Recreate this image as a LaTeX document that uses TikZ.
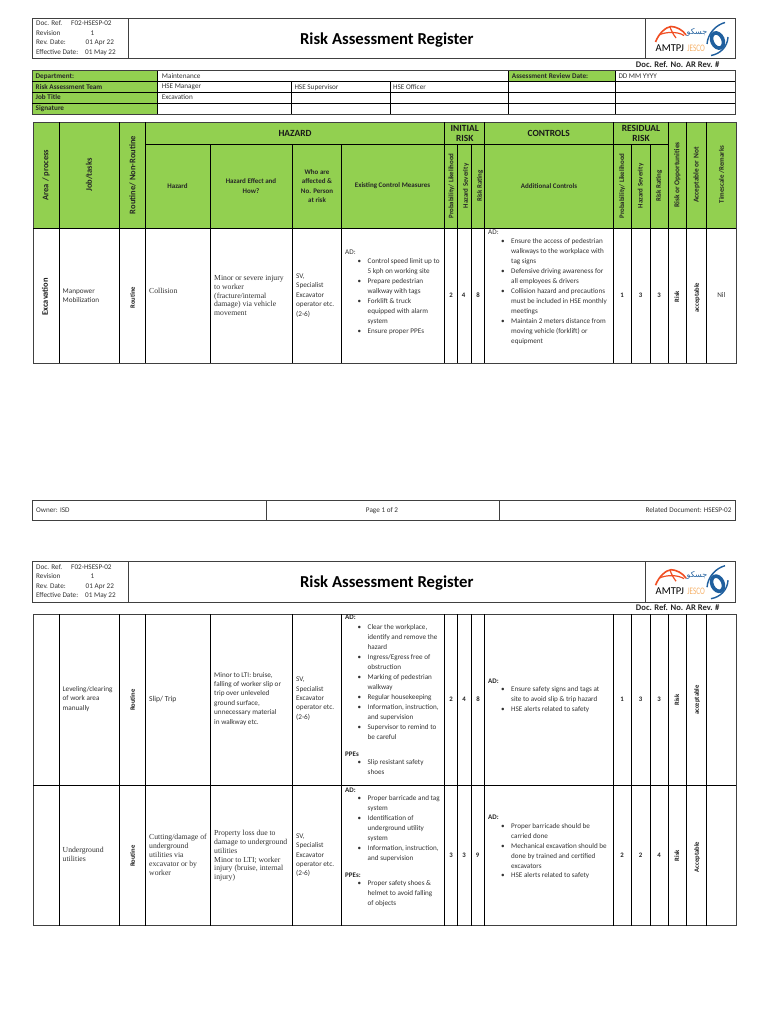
\documentclass[tikz,border=0pt]{standalone}
\usepackage{fontspec}
\setmainfont{Carlito}
\newfontfamily\timesfont{Liberation Serif}
\newfontfamily\arabicfont[Script=Arabic]{DejaVu Sans}
\TeXXeTstate=1
\usepackage{xcolor}
\usepackage{tikz}
\usetikzlibrary{positioning}
\definecolor{hdrgreen}{HTML}{92D050}
\definecolor{bodygray}{HTML}{333333}
\definecolor{logored}{HTML}{F04E23}
\definecolor{logopale}{HTML}{F6B26B}
\definecolor{logoblue}{HTML}{1F5F9E}
\newcommand{\bl}{\makebox[10pt][l]{\textbullet}}
\newcommand{\ct}{\hspace*{10pt}}

\begin{document}
\begin{tikzpicture}[
    x=1pt, y=-1pt,
    grid/.style={draw=black, line width=0.7pt},
    frame/.style={draw=black!75, line width=1pt},
    small/.style={inner sep=0pt, anchor=west, align=left, text=bodygray, font=\fontsize{7.2}{9.4}\selectfont},
    tiny/.style={inner sep=0pt, anchor=base west, text=bodygray, font=\fontsize{7.2}{9.4}\selectfont},
    listbox/.style={inner sep=0pt, anchor=west, align=left, text=bodygray, font=\fontsize{7.15}{9.95}\selectfont},
    serifcell/.style={inner sep=0pt, anchor=west, align=left, text=bodygray, font=\timesfont\fontsize{7.7}{8.9}\selectfont},
    strong/.style={inner sep=0pt, anchor=base west, text=black!85, font=\fontsize{7.2}{9}\selectfont\bfseries},
    adlabel/.style={inner sep=0pt, anchor=base west, text=black!85, font=\fontsize{7}{9}\selectfont\bfseries},
    headcell/.style={inner sep=0pt, align=center, text=black!85, font=\fontsize{7}{9.6}\selectfont\bfseries},
    band/.style={inner sep=0pt, align=center, text=black!90, font=\fontsize{9.4}{10}\selectfont\bfseries},
    rothead/.style={inner sep=0pt, rotate=90, text=black!85, font=\fontsize{6.9}{8}\selectfont\bfseries},
    rotwide/.style={inner sep=0pt, rotate=90, text=black!85, font=\fontsize{7.4}{8}\selectfont\bfseries},
    rotbig/.style={inner sep=0pt, rotate=90, text=black!85, font=\fontsize{8.5}{9}\selectfont\bfseries},
    rotcell/.style={inner sep=0pt, rotate=90, text=black!90, font=\fontsize{6.6}{8}\selectfont\bfseries},
    score/.style={inner sep=0pt, text=black!85, font=\fontsize{6.8}{8}\selectfont\bfseries}
]

\path[use as bounding box, fill=white] (0,0) rectangle (768,1024);

% Page header, twice
\foreach \hy/\hn in {0/a,543.2/b} {
\begin{scope}[shift={(0,\hy)}]
\draw[frame] (32.5,18.5) rectangle (735.3,59);
\draw[frame] (128.5,18.5) -- (128.5,59) (645.6,18.5) -- (645.6,59);
\node[tiny] (ref\hn) at (36,26) {Doc. Ref.};
\node[tiny] (refval\hn) at (71,26) {F02-HSESP-02};
\node[tiny] (rev\hn) at (36,35.5) {Revision};
\node[tiny] (revval\hn) at (90.5,35.5) {1};
\node[tiny] (date\hn) at (36,45) {Rev. Date:};
\node[tiny] (dateval\hn) at (85.5,45) {01 Apr 22};
\node[tiny] (eff\hn) at (36,54.3) {Effective Date:};
\node[tiny] (effval\hn) at (85,54.3) {01 May 22};
\node[inner sep=0pt, font=\fontsize{16.7}{18}\selectfont\bfseries] (title\hn) at (386.8,39.6) {Risk Assessment Register};
\node[inner sep=0pt, font=\fontsize{8.6}{10}\selectfont\bfseries, text=black!85] (docno\hn) at (677.7,64.7) {Doc. Ref. No. AR Rev. \#};
% Logo
\draw[logored, line width=1.6pt] (655.5,42) .. controls (659,33) and (666,27) .. (671,26.5) .. controls (676,26.5) and (683,30) .. (686,35);
\draw[logored, line width=1.2pt] (659,35) .. controls (666,31.5) and (678,31.5) .. (684,35.5);
\draw[logored, line width=1.2pt] (670,27) .. controls (671,30) and (673,34) .. (676,38);
\node[inner sep=0pt, font=\fontsize{10.5}{11}\selectfont] (amtpj\hn) at (669.8,48) {AMTPJ};
\node[inner sep=0pt, text=logopale, font=\fontsize{10}{11}\selectfont, xscale=0.72] (jesco\hn) at (696.2,48) {JESCO};
\node[inner sep=0pt, text=logoblue, font=\arabicfont\fontsize{8}{9}\selectfont] (arabic\hn) at (697,32) {\beginR جسكو\endR};
\draw[logoblue, line width=3.6pt, rotate around={25:(717.5,40.5)}] (717.5,40.5) ellipse (5.5pt and 8pt);
\draw[logoblue, line width=1.4pt] (725,22.5) .. controls (716,25) and (708,33) .. (707,44);
\draw[logoblue, line width=1.4pt] (711,55.5) .. controls (720,54) and (727.5,47) .. (728,37);
\end{scope}
}

% Info table
\fill[hdrgreen] (32,71) rectangle (157.5,114.5) (508,71) rectangle (615,81);
\draw[frame] (32,71) rectangle (735,114.5);
\foreach \ry in {81,92.3,103.5} \draw[grid] (32,\ry) -- (735,\ry);
\foreach \vx in {157.5,508,615} \draw[grid] (\vx,71) -- (\vx,114.5);
\foreach \vx in {291,390} \draw[grid] (\vx,81) -- (\vx,114.5);
\node[strong] (dept) at (35.5,78.3) {Department:};
\node[strong] (team) at (35.5,89.4) {Risk Assessment Team};
\node[strong] (job) at (35.5,99.8) {Job Title};
\node[strong] (sign) at (35.5,110.6) {Signature};
\node[tiny] (maint) at (161.7,78.4) {Maintenance};
\node[tiny] (manager) at (161.7,88.9) {HSE Manager};
\node[tiny] (excav) at (161.7,99.9) {Excavation};
\node[tiny] (superv) at (294.3,89.4) {HSE Supervisor};
\node[tiny] (officer) at (393,89.4) {HSE Officer};
\node[strong] (review) at (511.7,78.3) {Assessment Review Date:};
\node[tiny] (ddmm) at (618.3,78.4) {DD MM YYYY};

% Main table, page 1
\fill[hdrgreen] (33,122.5) rectangle (736,228.5);
\draw[frame] (33,122.5) rectangle (736,363.2);
\draw[grid] (33,228.5) -- (736,228.5);
\draw[grid] (145.5,144.5) -- (668.3,144.5);
\foreach \vx in {59,119.5,145.5,668.3,686.7,706.7,444.7,484.7,613} \draw[grid] (\vx,122.5) -- (\vx,363.2);
\foreach \vx in {210.5,292.3,341.5,457.3,471.7,631.3,650.3} \draw[grid] (\vx,144.5) -- (\vx,363.2);

\node[rotbig] (area) at (46,175) {Area / process};
\node[rotbig] (tasks) at (89,175) {Job/tasks};
\node[rotbig] (routine) at (132.5,175) {Routine/ Non-Routine};
\node[band] (hazard) at (295,133) {HAZARD};
\node[band] (initial) at (464.7,133) {INITIAL\\RISK};
\node[band] (controls) at (548.7,133) {CONTROLS};
\node[band] (residual) at (641,133) {RESIDUAL\\RISK};
\node[headcell] (hz) at (177.5,186) {Hazard};
\node[headcell] (effect) at (251,186) {Hazard Effect and\\How?};
\node[headcell] (who) at (317,186) {Who are\\affected \&\\No. Person\\at risk};
\node[headcell] (existing) at (392.5,186) {Existing Control Measures};
\node[headcell] (addit) at (549,186) {Additional Controls};
\node[rothead] (prob) at (451.5,186) {Probability/ Likelihood};
\node[rothead] (sev) at (466,186) {Hazard Severity};
\node[rothead] (rate) at (480,186) {Risk Rating};
\node[rothead] (prob2) at (622.3,186) {Probability/ Likelihood};
\node[rothead] (sev2) at (640.7,186) {Hazard Severity};
\node[rothead] (rate2) at (659,186) {Risk Rating};
\node[rotwide] (opp) at (677.3,175) {Risk or Opportunities};
\node[rotwide] (accnot) at (696.7,175) {Acceptable or Not};
\node[rothead] (time) at (721.7,174.5) {Timescale /Remarks};

% Excavation row
\node[rotcell, font=\fontsize{8.4}{9}\selectfont\bfseries] (exc) at (45,296.7) {Excavation};
\node[small] (manpower) at (62.5,295.5) {Manpower\\Mobilization};
\node[rotcell] (rt1) at (132.7,297.5) {Routine};
\node[serifcell] (coll) at (149,291) {Collision};
\node[serifcell] (minor) at (214,295.5) {Minor or severe injury\\to worker\\(fracture/internal\\damage) via vehicle\\movement};
\node[small] (sv1) at (296,295.5) {SV,\\Specialist\\Excavator\\operator etc.\\(2-6)};
\node[small] (ad1) at (345,252) {AD:};
\node[listbox] (ex1) at (357.5,296.3) {\bl Control speed limit up to\\\ct 5 kph on working site\\\bl Prepare pedestrian\\\ct walkway with tags\\\bl Forklift \& truck\\\ct equipped with alarm\\\ct system\\\bl Ensure proper PPEs};
\node[small] (adb1) at (488,232) {AD:};
\node[listbox] (add1) at (501,291.8) {\bl Ensure the access of pedestrian\\\ct walkways to the workplace with\\\ct tag signs\\\bl Defensive driving awareness for\\\ct all employees \& drivers\\\bl Collision hazard and precautions\\\ct must be included in HSE monthly\\\ct meetings\\\bl Maintain 2 meters distance from\\\ct moving vehicle (forklift) or\\\ct equipment};
\node[score] (p1) at (451,295.3) {2};
\node[score] (s1) at (463.5,295.3) {4};
\node[score] (r1) at (478,295.3) {8};
\node[score] (pp1) at (622,295.3) {1};
\node[score] (ss1) at (640.7,295.3) {3};
\node[score] (rr1) at (659,295.3) {3};
\node[rotcell] (risk1) at (676.7,296.7) {Risk};
\node[rotcell] (acc1) at (697,297.7) {acceptable};
\node[small, anchor=center] (nil) at (721.3,295) {Nil};

% Footer
\draw[frame] (32.5,500.7) rectangle (735,520);
\draw[frame] (266,500.7) -- (266,520) (499,500.7) -- (499,520);
\node[small] (owner) at (36,510.3) {Owner: ISD};
\node[small, anchor=center] (page) at (382,510.3) {Page 1 of 2};
\node[small, anchor=east] (related) at (731.7,510.3) {Related Document: HSESP-02};

% Main table, page 2
\draw[frame] (33,614) rectangle (736,925.7);
\draw[grid] (33,785.7) -- (736,785.7);
\foreach \vx in {59,119.5,145.5,210.5,292.3,341.5,444.7,457.3,471.7,484.7,613,631.3,650.3,668.3,686.7,706.7} \draw[grid] (\vx,614) -- (\vx,925.7);

% Leveling row
\node[small] (level) at (62.5,699) {Leveling/clearing\\of work area\\manually};
\node[rotcell] (rt2) at (132.7,700) {Routine};
\node[small, font=\fontsize{7.6}{9}\selectfont] (slip) at (149,699) {Slip/ Trip};
\node[small] (minor2) at (214,698.7) {Minor to LTI: bruise,\\falling of worker slip or\\trip over unleveled\\ground surface,\\unnecessary material\\in walkway etc.};
\node[small] (sv2) at (296,698.7) {SV,\\Specialist\\Excavator\\operator etc.\\(2-6)};
\node[adlabel] (ad2) at (345,619.5) {AD:};
\node[listbox] (ex2) at (357.5,682) {\bl Clear the workplace,\\\ct identify and remove the\\\ct hazard\\\bl Ingress/Egress free of\\\ct obstruction\\\bl Marking of pedestrian\\\ct walkway\\\bl Regular housekeeping\\\bl Information, instruction,\\\ct and supervision\\\bl Supervisor to remind to\\\ct be careful};
\node[adlabel] (ppe2) at (345,756.3) {PPEs};
\node[listbox] (ppelist2) at (357.5,767.5) {\bl Slip resistant safety\\\ct shoes};
\node[adlabel] (adb2) at (488,683) {AD:};
\node[listbox] (add2) at (501,699.7) {\bl Ensure safety signs and tags at\\\ct site to avoid slip \& trip hazard\\\bl HSE alerts related to safety};
\node[score] (p2) at (451,699) {2};
\node[score] (s2) at (464,699) {4};
\node[score] (r2) at (478,699) {8};
\node[score] (pp2) at (622,699) {1};
\node[score] (ss2) at (640.7,699) {3};
\node[score] (rr2) at (659,699) {3};
\node[rotcell] (risk2) at (676.7,700) {Risk};
\node[rotcell] (acc2) at (697,700) {acceptable};

% Underground row
\node[serifcell] (under) at (62.5,854.5) {Underground\\utilities};
\node[rotcell] (rt3) at (132.7,856) {Routine};
\node[serifcell] (cut) at (149,855) {Cutting/damage of\\underground\\utilities via\\excavator or by\\worker};
\node[serifcell] (prop) at (214,855.7) {Property loss due to\\damage to underground\\utilities\\Minor to LTI; worker\\injury (bruise, internal\\injury)};
\node[small] (sv3) at (296,855.3) {SV,\\Specialist\\Excavator\\operator etc.\\(2-6)};
\node[adlabel] (ad3) at (345,792) {AD:};
\node[listbox] (ex3) at (357.5,828.7) {\bl Proper barricade and tag\\\ct system\\\bl Identification of\\\ct underground utility\\\ct system\\\bl Information, instruction,\\\ct and supervision};
\node[adlabel] (ppe3) at (345,877.6) {PPEs:};
\node[listbox] (ppelist3) at (357.5,893.7) {\bl Proper safety shoes \&\\\ct helmet to avoid falling\\\ct of objects};
\node[adlabel] (adb3) at (488,819) {AD:};
\node[listbox] (add3) at (501,851.2) {\bl Proper barricade should be\\\ct carried done\\\bl Mechanical excavation should be\\\ct done by trained and certified\\\ct excavators\\\bl HSE alerts related to safety};
\node[score] (p3) at (451,855.7) {3};
\node[score] (s3) at (464,855.7) {3};
\node[score] (r3) at (477.5,855.7) {9};
\node[score] (pp3) at (622,855.7) {2};
\node[score] (ss3) at (640.7,855.7) {2};
\node[score] (rr3) at (659,855.7) {4};
\node[rotcell] (risk3) at (676.7,855.7) {Risk};
\node[rotcell] (acc3) at (697,857) {Acceptable};

\end{tikzpicture}
\end{document}
